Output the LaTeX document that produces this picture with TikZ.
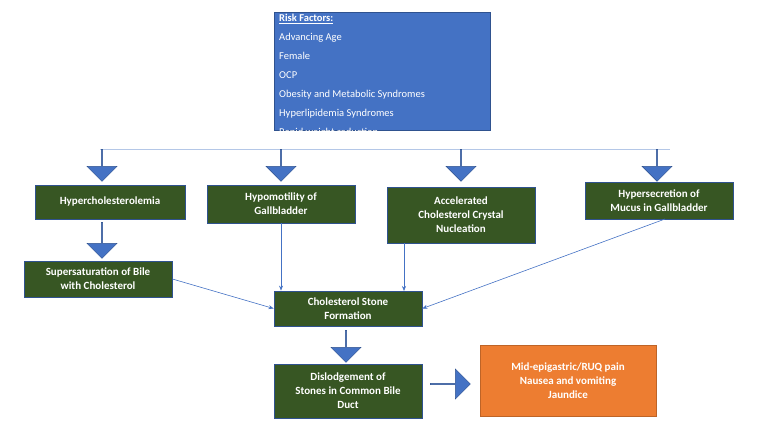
\documentclass[tikz,border=0pt]{standalone}
\usepackage{fontspec}
\setmainfont{Carlito}
\usetikzlibrary{shapes.arrows,arrows.meta}
\definecolor{bblue}{HTML}{4472C4}
\definecolor{dblue}{HTML}{2F528F}
\definecolor{gfill}{HTML}{375623}
\definecolor{orng}{HTML}{ED7D31}
\begin{document}
\begin{tikzpicture}[x=1pt,y=-1pt,
  gbox/.style={draw=dblue,line width=0.8pt,fill=gfill,text=white,font=\bfseries\fontsize{11}{14}\selectfont,align=center,inner sep=0pt},
  barrow/.style={single arrow,draw=dblue,fill=bblue,line width=0.5pt,single arrow head extend=5pt,minimum width=30pt,inner sep=0pt,single arrow tip angle=90},
  thin/.style={draw=bblue,line width=0.6pt,-{Stealth[length=5pt,width=4pt]}}]
\useasboundingbox (0,0) rectangle (768,433);
\node[draw=dblue,fill=bblue,text=white,inner sep=0pt,minimum width=216pt,minimum height=118pt] (risk) at (382,71) {};
\node[anchor=north west,text=white,align=left,font=\fontsize{10.5}{19}\selectfont,inner sep=0pt] (rt) at (279,14) {\textbf{\underline{Risk Factors:}}\\Advancing Age\\Female\\OCP\\Obesity and Metabolic Syndromes\\Hyperlipidemia Syndromes\\Rapid weight reduction};
\draw[draw=bblue!40,line width=1pt] (100,149) coordinate (l1) -- (670,149) coordinate (l2);
\node[gbox,minimum width=150pt,minimum height=34pt] (h1) at (110,202) {Hypercholesterolemia};
\node[gbox,minimum width=148pt,minimum height=38pt] (h2) at (281,204) {Hypomotility of\\Gallbladder};
\node[gbox,minimum width=148pt,minimum height=56pt] (h3) at (461,215) {Accelerated\\Cholesterol Crystal\\Nucleation};
\node[gbox,minimum width=148pt,minimum height=37pt] (h4) at (659,200.5) {Hypersecretion of\\Mucus in Gallbladder};
\node[gbox,minimum width=148pt,minimum height=36pt] (ss) at (98,279) {Supersaturation of Bile\\with Cholesterol};
\node[gbox,minimum width=148pt,minimum height=35pt] (cs) at (348,308.5) {Cholesterol Stone\\Formation};
\node[gbox,minimum width=148pt,minimum height=54pt] (dl) at (348,391) {Dislodgement of\\Stones in Common Bile\\Duct};
\node[draw=orng!80!black,fill=orng,text=white,font=\bfseries\fontsize{11}{14}\selectfont,align=center,minimum width=176pt,minimum height=71pt,inner sep=0pt] (sy) at (568,380.5) {Mid-epigastric/RUQ pain\\Nausea and vomiting\\Jaundice};
\foreach \x/\n in {102/a1,281/a2,461/a3,657/a4}
  \node[barrow,rotate=-90,minimum height=32pt] (\n) at (\x,165) {};
\node[barrow,rotate=-90,minimum height=36pt] (a5) at (102,240) {};
\node[barrow,rotate=-90,minimum height=32pt] (a6) at (346,346) {};
\node[barrow,minimum height=40pt] (a7) at (450,384) {};
\draw[thin] (h2.south) -- (h2.south |- cs.north);
\draw[thin] (h3.south -| 404,0) -- (404,291);
\draw[thin] (665,219) -- (cs.east);
\draw[thin] (ss.east) -- (cs.west);
\end{tikzpicture}
\end{document}
